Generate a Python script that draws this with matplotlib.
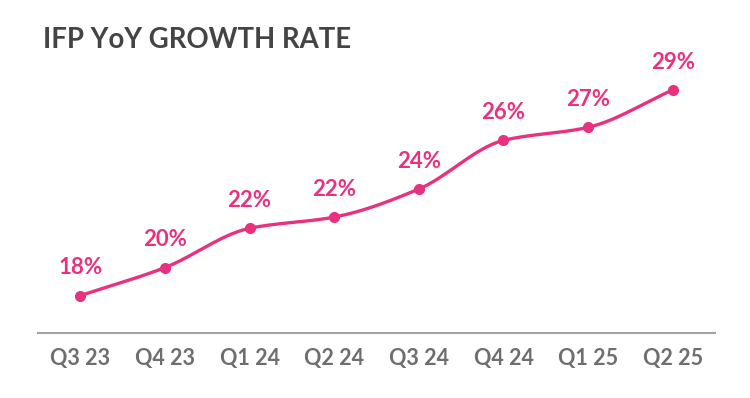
import numpy as np
import matplotlib.pyplot as plt

quarters = ['Q3 23', 'Q4 23', 'Q1 24', 'Q2 24', 'Q3 24', 'Q4 24', 'Q1 25', 'Q2 25']
growth = [18.0, 19.5, 21.6, 22.2, 23.7, 26.3, 27.0, 29.0]
labels = ['18%', '20%', '22%', '22%', '24%', '26%', '27%', '29%']

pink = '#E9327F'


def monotone_curve(x, y, n=30):
    # Fritsch-Carlson monotone cubic, just for drawing the smooth line
    x = np.asarray(x, float)
    y = np.asarray(y, float)
    h = np.diff(x)
    d = np.diff(y) / h
    m = np.zeros_like(y)
    m[0], m[-1] = d[0], d[-1]
    for i in range(1, len(y) - 1):
        if d[i - 1] * d[i] <= 0:
            m[i] = 0
        else:
            m[i] = 2 / (1 / d[i - 1] + 1 / d[i])
    xs, ys = [], []
    for i in range(len(h)):
        t = np.linspace(0, 1, n)
        h00 = 2 * t**3 - 3 * t**2 + 1
        h10 = t**3 - 2 * t**2 + t
        h01 = -2 * t**3 + 3 * t**2
        h11 = t**3 - t**2
        xs.append(x[i] + t * h[i])
        ys.append(h00 * y[i] + h10 * h[i] * m[i] + h01 * y[i + 1] + h11 * h[i] * m[i + 1])
    return np.concatenate(xs), np.concatenate(ys)


plt.rcParams['font.family'] = ['Lato', 'DejaVu Sans']

fig = plt.figure(figsize=(7.5, 3.98), dpi=100)
ax = fig.add_axes([0.0507, 0.1633, 0.9027, 0.70])

x = np.arange(len(quarters))
cx, cy = monotone_curve(x, growth)
ax.plot(cx, cy, color=pink, lw=2.4, solid_capstyle='round')
ax.plot(x, growth, 'o', color=pink, ms=7)

for xi, yi, lab in zip(x, growth, labels):
    ax.annotate(lab, (xi, yi), xytext=(0, 20), textcoords='offset points',
                ha='center', va='center', color=pink, fontsize=16, fontweight='bold')

ax.set_xlim(-0.5, 7.5)
ax.set_ylim(16, 30.9)
ax.set_xticks(x)
ax.set_xticklabels(quarters, fontsize=15.5, fontweight='bold', color='#6E6E6E')
ax.tick_params(axis='x', length=0, pad=11)
ax.set_yticks([])
for s in ['top', 'left', 'right']:
    ax.spines[s].set_visible(False)
ax.spines['bottom'].set_color('#A3A3A3')
ax.spines['bottom'].set_linewidth(1.5)

fig.text(0.057, 0.90, 'IFP YoY GROWTH RATE', fontsize=19.8, fontweight='bold',
         color='#444444', va='center', ha='left')

fig.savefig('out.png', dpi=100, facecolor='white')
